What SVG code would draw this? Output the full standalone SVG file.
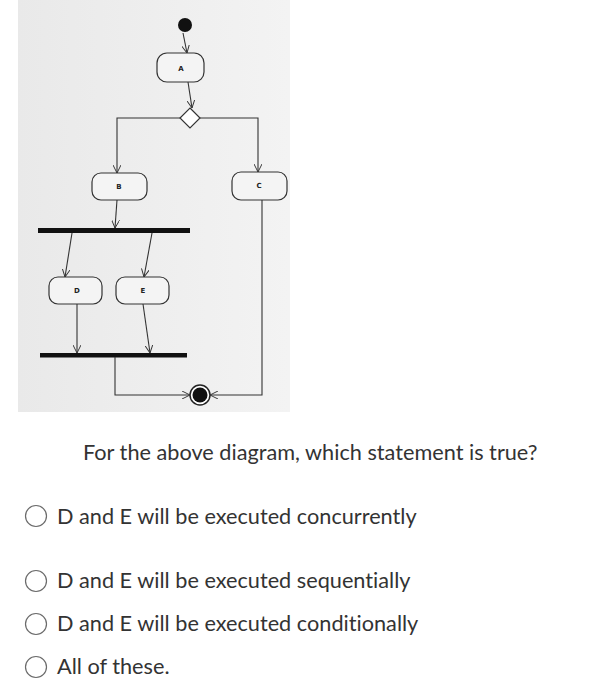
<svg xmlns="http://www.w3.org/2000/svg" width="610" height="697" viewBox="0 0 610 697">
<defs>
<linearGradient id="paper" x1="0" y1="0" x2="1" y2="0">
<stop offset="0" stop-color="#e9e9e9"/>
<stop offset="1" stop-color="#f3f3f3"/>
</linearGradient>
<marker id="arr" viewBox="0 0 10 10" refX="10" refY="5" markerWidth="8" markerHeight="8" orient="auto" markerUnits="userSpaceOnUse">
<path d="M0,0 L10,5 L0,10" fill="none" stroke="#333" stroke-width="1.2"/>
</marker>
</defs>
<style>
.act{fill:#f4f4f4;stroke:#333;stroke-width:1.2}
.lbl{font-family:"DejaVu Sans",sans-serif;font-size:7px;font-weight:bold;fill:#222;text-anchor:middle}
.edge{fill:none;stroke:#333;stroke-width:1.1;marker-end:url(#arr)}
.bar{fill:#111}
.q{font-family:Lato,"Liberation Sans",sans-serif;font-size:21.7px;fill:#333;font-variant-ligatures:none}
.radio{fill:#fff;stroke:#6b6b6b;stroke-width:1.2}
</style>
<rect width="610" height="697" fill="#fff"/>
<rect x="18" y="0" width="272" height="412" fill="url(#paper)"/>

<g id="start"><circle cx="185" cy="25" r="7" fill="#111"/></g>
<g id="A"><rect class="act" x="157" y="53" width="47" height="29" rx="10"/><text class="lbl" x="181" y="71">A</text></g>
<g id="decision"><polygon points="190,108 200,118 190,128 180,118" fill="#fff" stroke="#333" stroke-width="1.2"/></g>
<g id="B"><rect class="act" x="92" y="173" width="55" height="27" rx="9"/><text class="lbl" x="119" y="189">B</text></g>
<g id="C"><rect class="act" x="232" y="172" width="55" height="28" rx="9"/><text class="lbl" x="259" y="188">C</text></g>
<g id="fork"><rect class="bar" x="38" y="228" width="152" height="5"/></g>
<g id="D"><rect class="act" x="49" y="277" width="53" height="27" rx="9"/><text class="lbl" x="77" y="293">D</text></g>
<g id="E"><rect class="act" x="116" y="277" width="53" height="27" rx="9"/><text class="lbl" x="143" y="293">E</text></g>
<g id="join"><rect class="bar" x="40" y="353" width="147" height="4.5"/></g>
<g id="final"><circle cx="200" cy="395" r="10" fill="#fff" stroke="#222" stroke-width="1.5"/><circle cx="200" cy="395" r="7.5" fill="#111"/></g>

<g id="connectors">
<path class="edge" d="M183,33 L187,53"/>
<path class="edge" d="M188,82 L192,108"/>
<path class="edge" d="M180,118 L117,118 L117,173"/>
<path class="edge" d="M200,118 L258,118 L258,172"/>
<path class="edge" d="M117,200 L115,228"/>
<path class="edge" d="M72,233 L65,277"/>
<path class="edge" d="M152,233 L144,277"/>
<path class="edge" d="M77,304 L77,353"/>
<path class="edge" d="M143,304 L150,353"/>
<path class="edge" d="M115,357 L115,395 L190,395"/>
<path class="edge" d="M262,200 L262,395 L210,395"/>
</g>

<g id="question">
<text class="q" x="83" y="460">For the above diagram, which statement is true?</text>
<circle class="radio" cx="36" cy="516" r="10.5"/>
<text class="q" x="57" y="524">D and E will be executed concurrently</text>
<circle class="radio" cx="36" cy="581" r="10.5"/>
<text class="q" x="57" y="588">D and E will be executed sequentially</text>
<circle class="radio" cx="36" cy="624" r="10.5"/>
<text class="q" x="57" y="631">D and E will be executed conditionally</text>
<circle class="radio" cx="36" cy="667" r="10.5"/>
<text class="q" x="57" y="674">All of these.</text>
</g>
</svg>
